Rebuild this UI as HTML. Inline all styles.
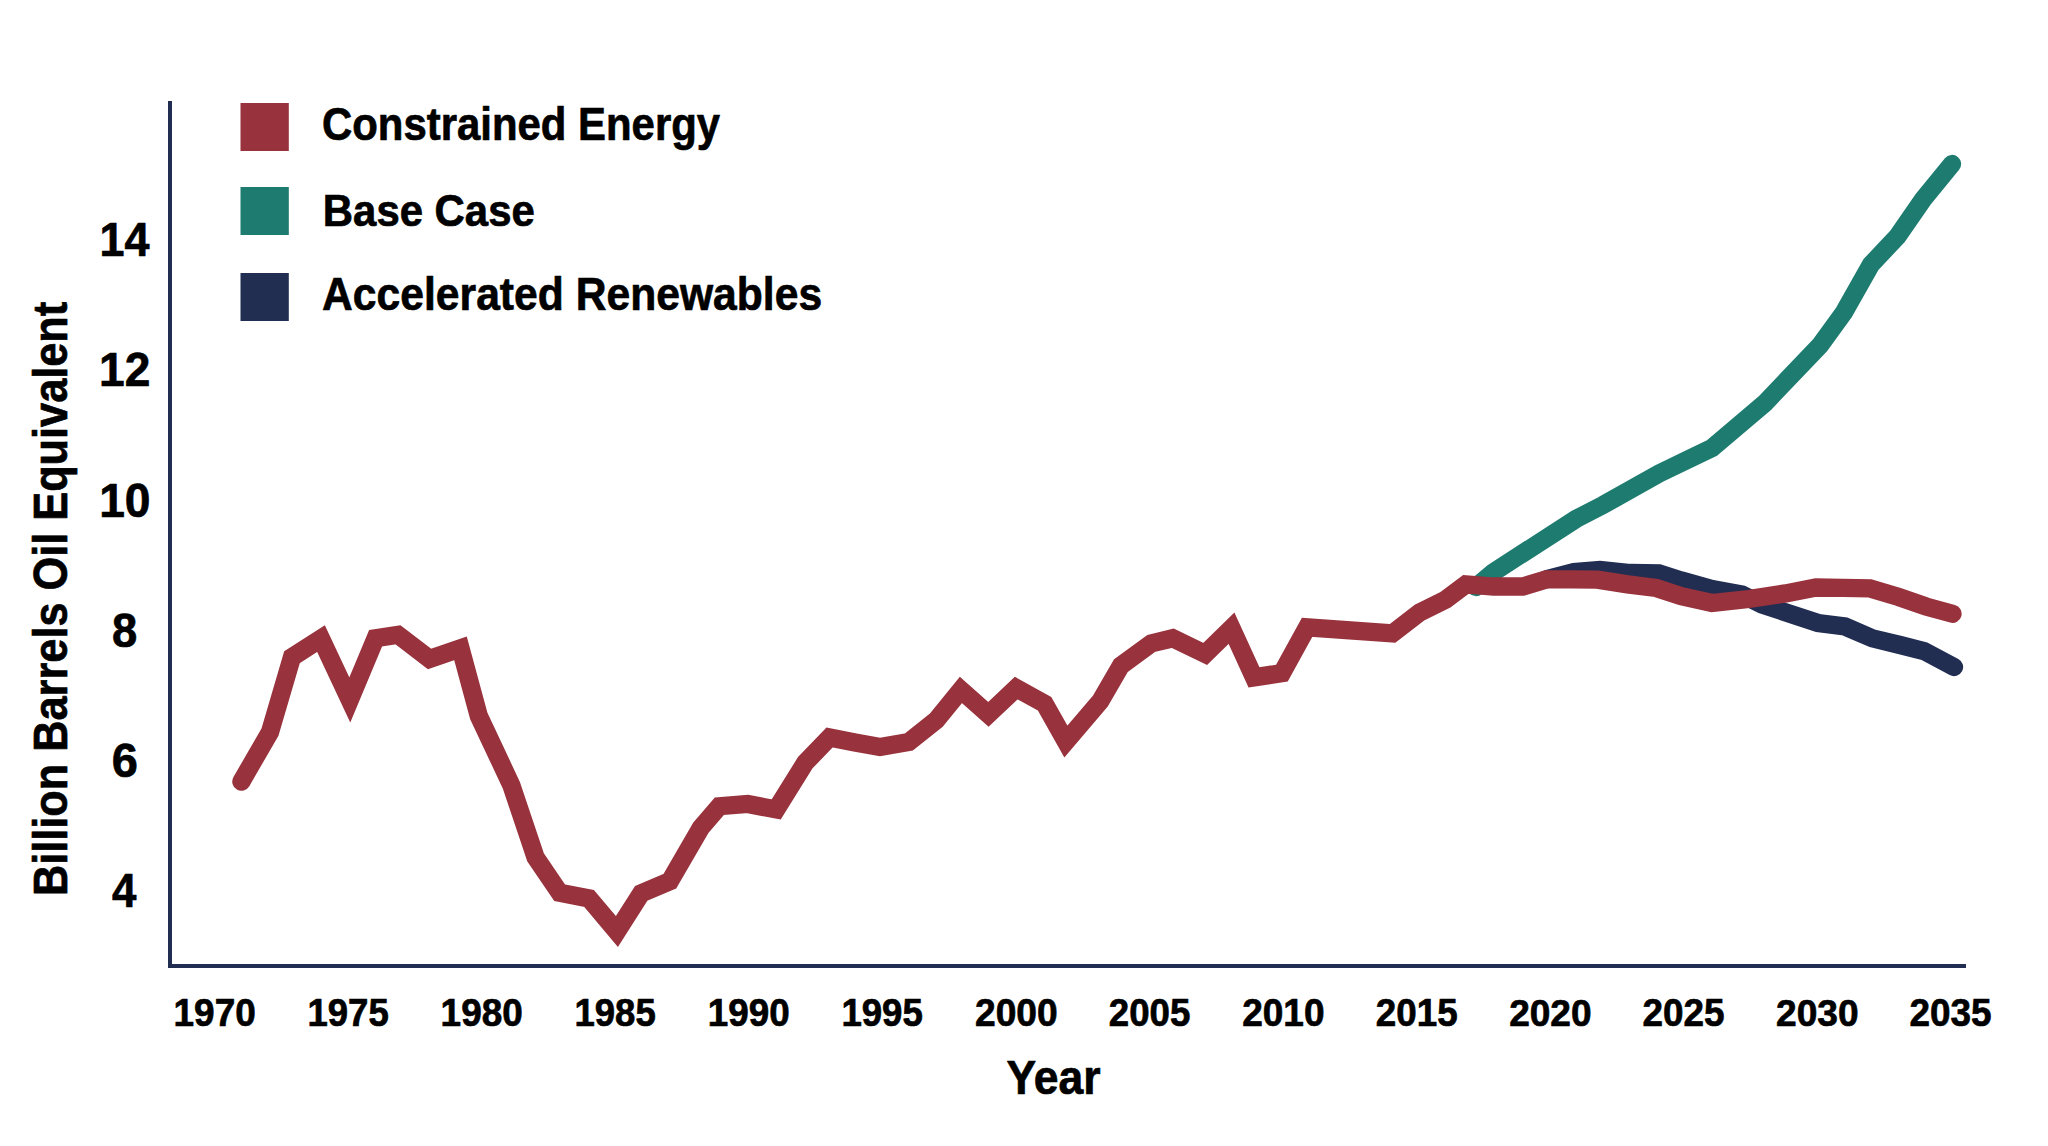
<!DOCTYPE html><html><head><meta charset="utf-8"><title>Billion Barrels Oil Equivalent by Year</title><style>
html,body{margin:0;padding:0;background:#fff;width:2048px;height:1146px;overflow:hidden}
svg{display:block}
text{font-family:'Liberation Sans', Arial, sans-serif;font-weight:bold;fill:#000;stroke:#000;stroke-width:0.7px;stroke-linejoin:round}
</style></head><body>
<svg width="2048" height="1146" viewBox="0 0 2048 1146">
<rect x="0" y="0" width="2048" height="1146" fill="#fff"/>
<path d="M170 101 V965.9 H1966" fill="none" stroke="#212e52" stroke-width="4"/>
<rect x="240.5" y="103" width="48.3" height="48" fill="#98323c"/>
<rect x="240.5" y="187" width="48.3" height="48" fill="#1e7b6f"/>
<rect x="240.5" y="273" width="48.3" height="48" fill="#212e52"/>
<text id="leg1" x="322.04" y="140.22" font-size="46.74" stroke-width="0.9" textLength="398.05" lengthAdjust="spacingAndGlyphs">Constrained Energy</text>
<text id="leg2" x="322.86" y="226.17" font-size="44.89" stroke-width="0.9" textLength="211.87" lengthAdjust="spacingAndGlyphs">Base Case</text>
<text id="leg3" x="322.06" y="310.37" font-size="47.09" stroke-width="0.9" textLength="500.07" lengthAdjust="spacingAndGlyphs">Accelerated Renewables</text>
<text id="y14" x="124.42" y="255.57" font-size="48.84" text-anchor="middle" stroke-width="0.45" textLength="49.95" lengthAdjust="spacingAndGlyphs">14</text>
<text id="y12" x="124.67" y="385.87" font-size="48.43" text-anchor="middle" stroke-width="0.45" textLength="51.31" lengthAdjust="spacingAndGlyphs">12</text>
<text id="y10" x="124.88" y="517.17" font-size="48.96" text-anchor="middle" stroke-width="0.45" textLength="51.36" lengthAdjust="spacingAndGlyphs">10</text>
<text id="y8" x="124.51" y="647.02" font-size="48.45" text-anchor="middle" stroke-width="0.45" textLength="25.25" lengthAdjust="spacingAndGlyphs">8</text>
<text id="y6" x="124.84" y="777.16" font-size="47.70" text-anchor="middle" stroke-width="0.45" textLength="26.13" lengthAdjust="spacingAndGlyphs">6</text>
<text id="y4" x="124.11" y="907.47" font-size="48.84" text-anchor="middle" stroke-width="0.45" textLength="24.41" lengthAdjust="spacingAndGlyphs">4</text>
<text id="x1970" x="214.69" y="1026.27" font-size="38.20" text-anchor="middle" stroke-width="0.15" textLength="82.24" lengthAdjust="spacingAndGlyphs">1970</text>
<text id="x1975" x="348.09" y="1026.27" font-size="38.20" text-anchor="middle" stroke-width="0.15" textLength="81.31" lengthAdjust="spacingAndGlyphs">1975</text>
<text id="x1980" x="481.70" y="1026.27" font-size="38.20" text-anchor="middle" stroke-width="0.15" textLength="82.16" lengthAdjust="spacingAndGlyphs">1980</text>
<text id="x1985" x="615.13" y="1026.27" font-size="38.20" text-anchor="middle" stroke-width="0.15" textLength="81.20" lengthAdjust="spacingAndGlyphs">1985</text>
<text id="x1990" x="748.71" y="1026.27" font-size="38.20" text-anchor="middle" stroke-width="0.15" textLength="81.88" lengthAdjust="spacingAndGlyphs">1990</text>
<text id="x1995" x="882.11" y="1026.27" font-size="38.20" text-anchor="middle" stroke-width="0.15" textLength="81.43" lengthAdjust="spacingAndGlyphs">1995</text>
<text id="x2000" x="1016.38" y="1026.27" font-size="38.19" text-anchor="middle" stroke-width="0.15" textLength="82.66" lengthAdjust="spacingAndGlyphs">2000</text>
<text id="x2005" x="1149.60" y="1026.27" font-size="38.20" text-anchor="middle" stroke-width="0.15" textLength="81.49" lengthAdjust="spacingAndGlyphs">2005</text>
<text id="x2010" x="1283.30" y="1026.27" font-size="38.20" text-anchor="middle" stroke-width="0.15" textLength="82.34" lengthAdjust="spacingAndGlyphs">2010</text>
<text id="x2015" x="1416.71" y="1026.27" font-size="38.20" text-anchor="middle" stroke-width="0.15" textLength="81.83" lengthAdjust="spacingAndGlyphs">2015</text>
<text id="x2020" x="1550.33" y="1026.27" font-size="37.41" text-anchor="middle" stroke-width="0.15" textLength="82.38" lengthAdjust="spacingAndGlyphs">2020</text>
<text id="x2025" x="1683.44" y="1026.27" font-size="38.20" text-anchor="middle" stroke-width="0.15" textLength="82.03" lengthAdjust="spacingAndGlyphs">2025</text>
<text id="x2030" x="1817.35" y="1026.27" font-size="37.42" text-anchor="middle" stroke-width="0.15" textLength="82.47" lengthAdjust="spacingAndGlyphs">2030</text>
<text id="x2035" x="1950.52" y="1026.27" font-size="38.20" text-anchor="middle" stroke-width="0.15" textLength="82.06" lengthAdjust="spacingAndGlyphs">2035</text>
<text id="year" x="1053.54" y="1094.17" font-size="47.70" text-anchor="middle" textLength="93.99" lengthAdjust="spacingAndGlyphs">Year</text>
<text id="ytitle" transform="translate(67.30,598.93) rotate(-90)" x="0" y="0" font-size="48.50" text-anchor="middle" textLength="594.21" lengthAdjust="spacingAndGlyphs">Billion Barrels Oil Equivalent</text>
<polyline points="1476.00,587.00 1493.00,572.50 1576.00,519.00 1603.00,505.00 1659.00,473.50 1686.00,460.60 1712.00,448.00 1765.00,403.00 1820.00,345.30 1844.00,312.30 1871.00,264.50 1897.60,236.20 1923.00,199.50 1952.00,164.00" fill="none" stroke="#1e7b6f" stroke-width="18.3" stroke-linecap="round" stroke-linejoin="miter" stroke-miterlimit="10"/>
<polyline points="1547.00,579.20 1574.00,572.00 1600.00,570.00 1630.00,573.00 1659.00,573.50 1681.00,580.40 1712.00,589.00 1742.00,594.50 1762.00,604.50 1818.00,623.00 1845.00,626.50 1872.50,638.40 1900.00,645.00 1924.00,651.00 1954.00,667.00" fill="none" stroke="#212e52" stroke-width="18.3" stroke-linecap="round" stroke-linejoin="miter" stroke-miterlimit="10"/>
<polyline points="241.40,781.60 270.00,732.00 292.00,657.20 321.00,638.50 349.80,700.00 375.60,638.30 398.00,634.80 429.60,659.00 460.50,648.40 478.80,716.00 511.40,785.30 535.60,857.50 559.70,892.80 589.00,898.40 616.90,931.50 641.25,893.40 669.80,881.25 700.80,827.80 719.30,806.25 747.75,804.00 776.25,809.40 805.25,762.75 829.60,737.50 855.00,742.50 880.00,747.00 909.00,742.00 936.25,720.25 960.90,690.00 988.40,714.40 1016.25,688.10 1044.60,703.75 1065.90,741.50 1100.25,701.25 1121.00,665.50 1151.25,643.40 1172.75,638.25 1205.25,653.90 1231.50,628.10 1254.00,677.40 1281.90,673.10 1307.10,627.40 1392.50,633.40 1419.60,612.50 1445.60,599.60 1465.90,584.40 1493.75,586.50 1522.75,586.50 1546.25,579.40 1572.50,579.40 1597.50,579.60 1627.50,584.40 1656.25,588.00 1681.25,596.25 1711.90,603.00 1748.75,599.00 1785.60,593.40 1816.00,587.50 1842.50,587.80 1870.00,588.40 1898.75,597.00 1926.00,606.50 1952.50,613.75" fill="none" stroke="#98323c" stroke-width="18.3" stroke-linecap="round" stroke-linejoin="miter" stroke-miterlimit="10"/>
</svg></body></html>
